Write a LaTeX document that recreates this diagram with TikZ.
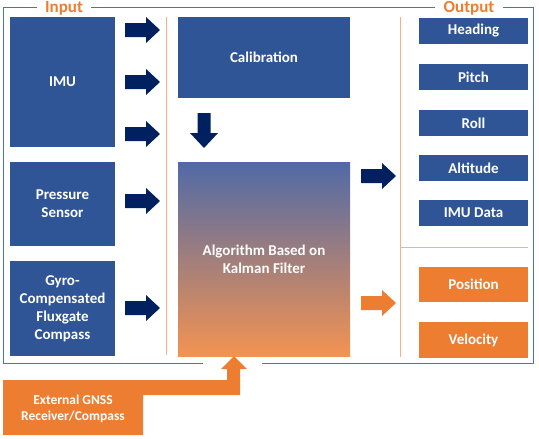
\documentclass[tikz,border=0pt]{standalone}
\usepackage{fontspec}
\setmainfont{Carlito}
\definecolor{boxblue}{RGB}{47,85,151}
\definecolor{navy}{RGB}{0,32,96}
\definecolor{orange}{RGB}{237,125,49}
\definecolor{lightorange}{RGB}{244,177,131}
\definecolor{framblue}{RGB}{68,114,196}
\definecolor{algtop}{RGB}{80,106,166}
\definecolor{algmid}{RGB}{198,128,132}
\definecolor{algbot}{RGB}{243,147,82}
\tikzset{
  box/.style={fill=boxblue, text=white, inner sep=0pt, align=center,
    font=\bfseries\fontsize{15}{18}\selectfont},
  obox/.style={box, fill=orange},
  title/.style={text=orange, inner sep=0pt, font=\bfseries\fontsize{17}{20}\selectfont},
  rarrow/.pic={\fill (0,-7) -- (21,-7) -- (21,-13) -- (35,0) -- (21,13) -- (21,7) -- (0,7) -- cycle;},
  darrow/.pic={\fill (-6.5,0) -- (6.5,0) -- (6.5,20) -- (14,20) -- (0,35) -- (-14,20) -- (-6.5,20) -- cycle;}
}

\begin{document}
\begin{tikzpicture}[x=1pt, y=-1pt]
    %initialisation
    \useasboundingbox (0,0) rectangle (539,439);
    %frame
    \draw[framblue, line width=1pt] (37,7) -- (3,7) -- (3,363) -- (203,363);
    \draw[framblue, line width=1pt] (262,363) -- (533,363) -- (533,7) -- (503,7);
    \draw[framblue, line width=1pt] (435,7) -- (91,7);
    \node[title] (input) at (64,8) {Input};
    \node[title] (output) at (469,8) {Output};
    %dividers
    \draw[lightorange, line width=0.8pt] (166,17) -- (166,355);
    \draw[lightorange, line width=0.8pt] (400,17) -- (400,357);
    \draw[lightorange, line width=0.8pt] (400,247) -- (528,247);
    %inputs
    \node[box, minimum width=105, minimum height=130] (imu) at (62.5,82) {IMU};
    \node[box, minimum width=105, minimum height=84] (pressure) at (62.5,204) {Pressure\\Sensor};
    \node[box, minimum width=105, minimum height=95] (gyro) at (62.5,308.5) {Gyro-\\Compensated\\Fluxgate\\Compass};
    %processing
    \node[box, minimum width=172, minimum height=81] (calib) at (264,57.5) {Calibration};
    \node[box, minimum width=172, minimum height=194, top color=algtop,
      middle color=algmid, bottom color=algbot] (algo) at (264,259) {Algorithm Based on\\Kalman Filter};
    %outputs
    \node[box, minimum width=109, minimum height=26] (heading) at (473.5,31) {Heading};
    \node[box, minimum width=109, minimum height=26] (pitch) at (473.5,77) {Pitch};
    \node[box, minimum width=109, minimum height=26] (roll) at (473.5,123) {Roll};
    \node[box, minimum width=109, minimum height=26] (altitude) at (473.5,168) {Altitude};
    \node[box, minimum width=109, minimum height=26] (imudata) at (473.5,213) {IMU Data};
    \node[obox, minimum width=109, minimum height=35] (position) at (473.5,284.5) {Position};
    \node[obox, minimum width=109, minimum height=36] (velocity) at (473.5,340) {Velocity};
    %arrows
    \foreach \y in {30,82,134,201,308}
      \pic[navy] at (125,\y) {rarrow};
    \pic[navy] at (204,113) {darrow};
    \pic[navy] at (361,176) {rarrow};
    \pic[orange] at (361,303) {rarrow};
    %external source
    \fill[orange] (3,380) -- (227,380) -- (227,369) -- (221,369) -- (234,356)
      -- (247,369) -- (240,369) -- (240,395) -- (143,395) -- (143,435) -- (3,435) -- cycle;
    \node[text=white, align=center, inner sep=0pt,
      font=\bfseries\fontsize{13.5}{16}\selectfont] (gnss) at (73,409) {External GNSS\\Receiver/Compass};
\end{tikzpicture}
\end{document}
